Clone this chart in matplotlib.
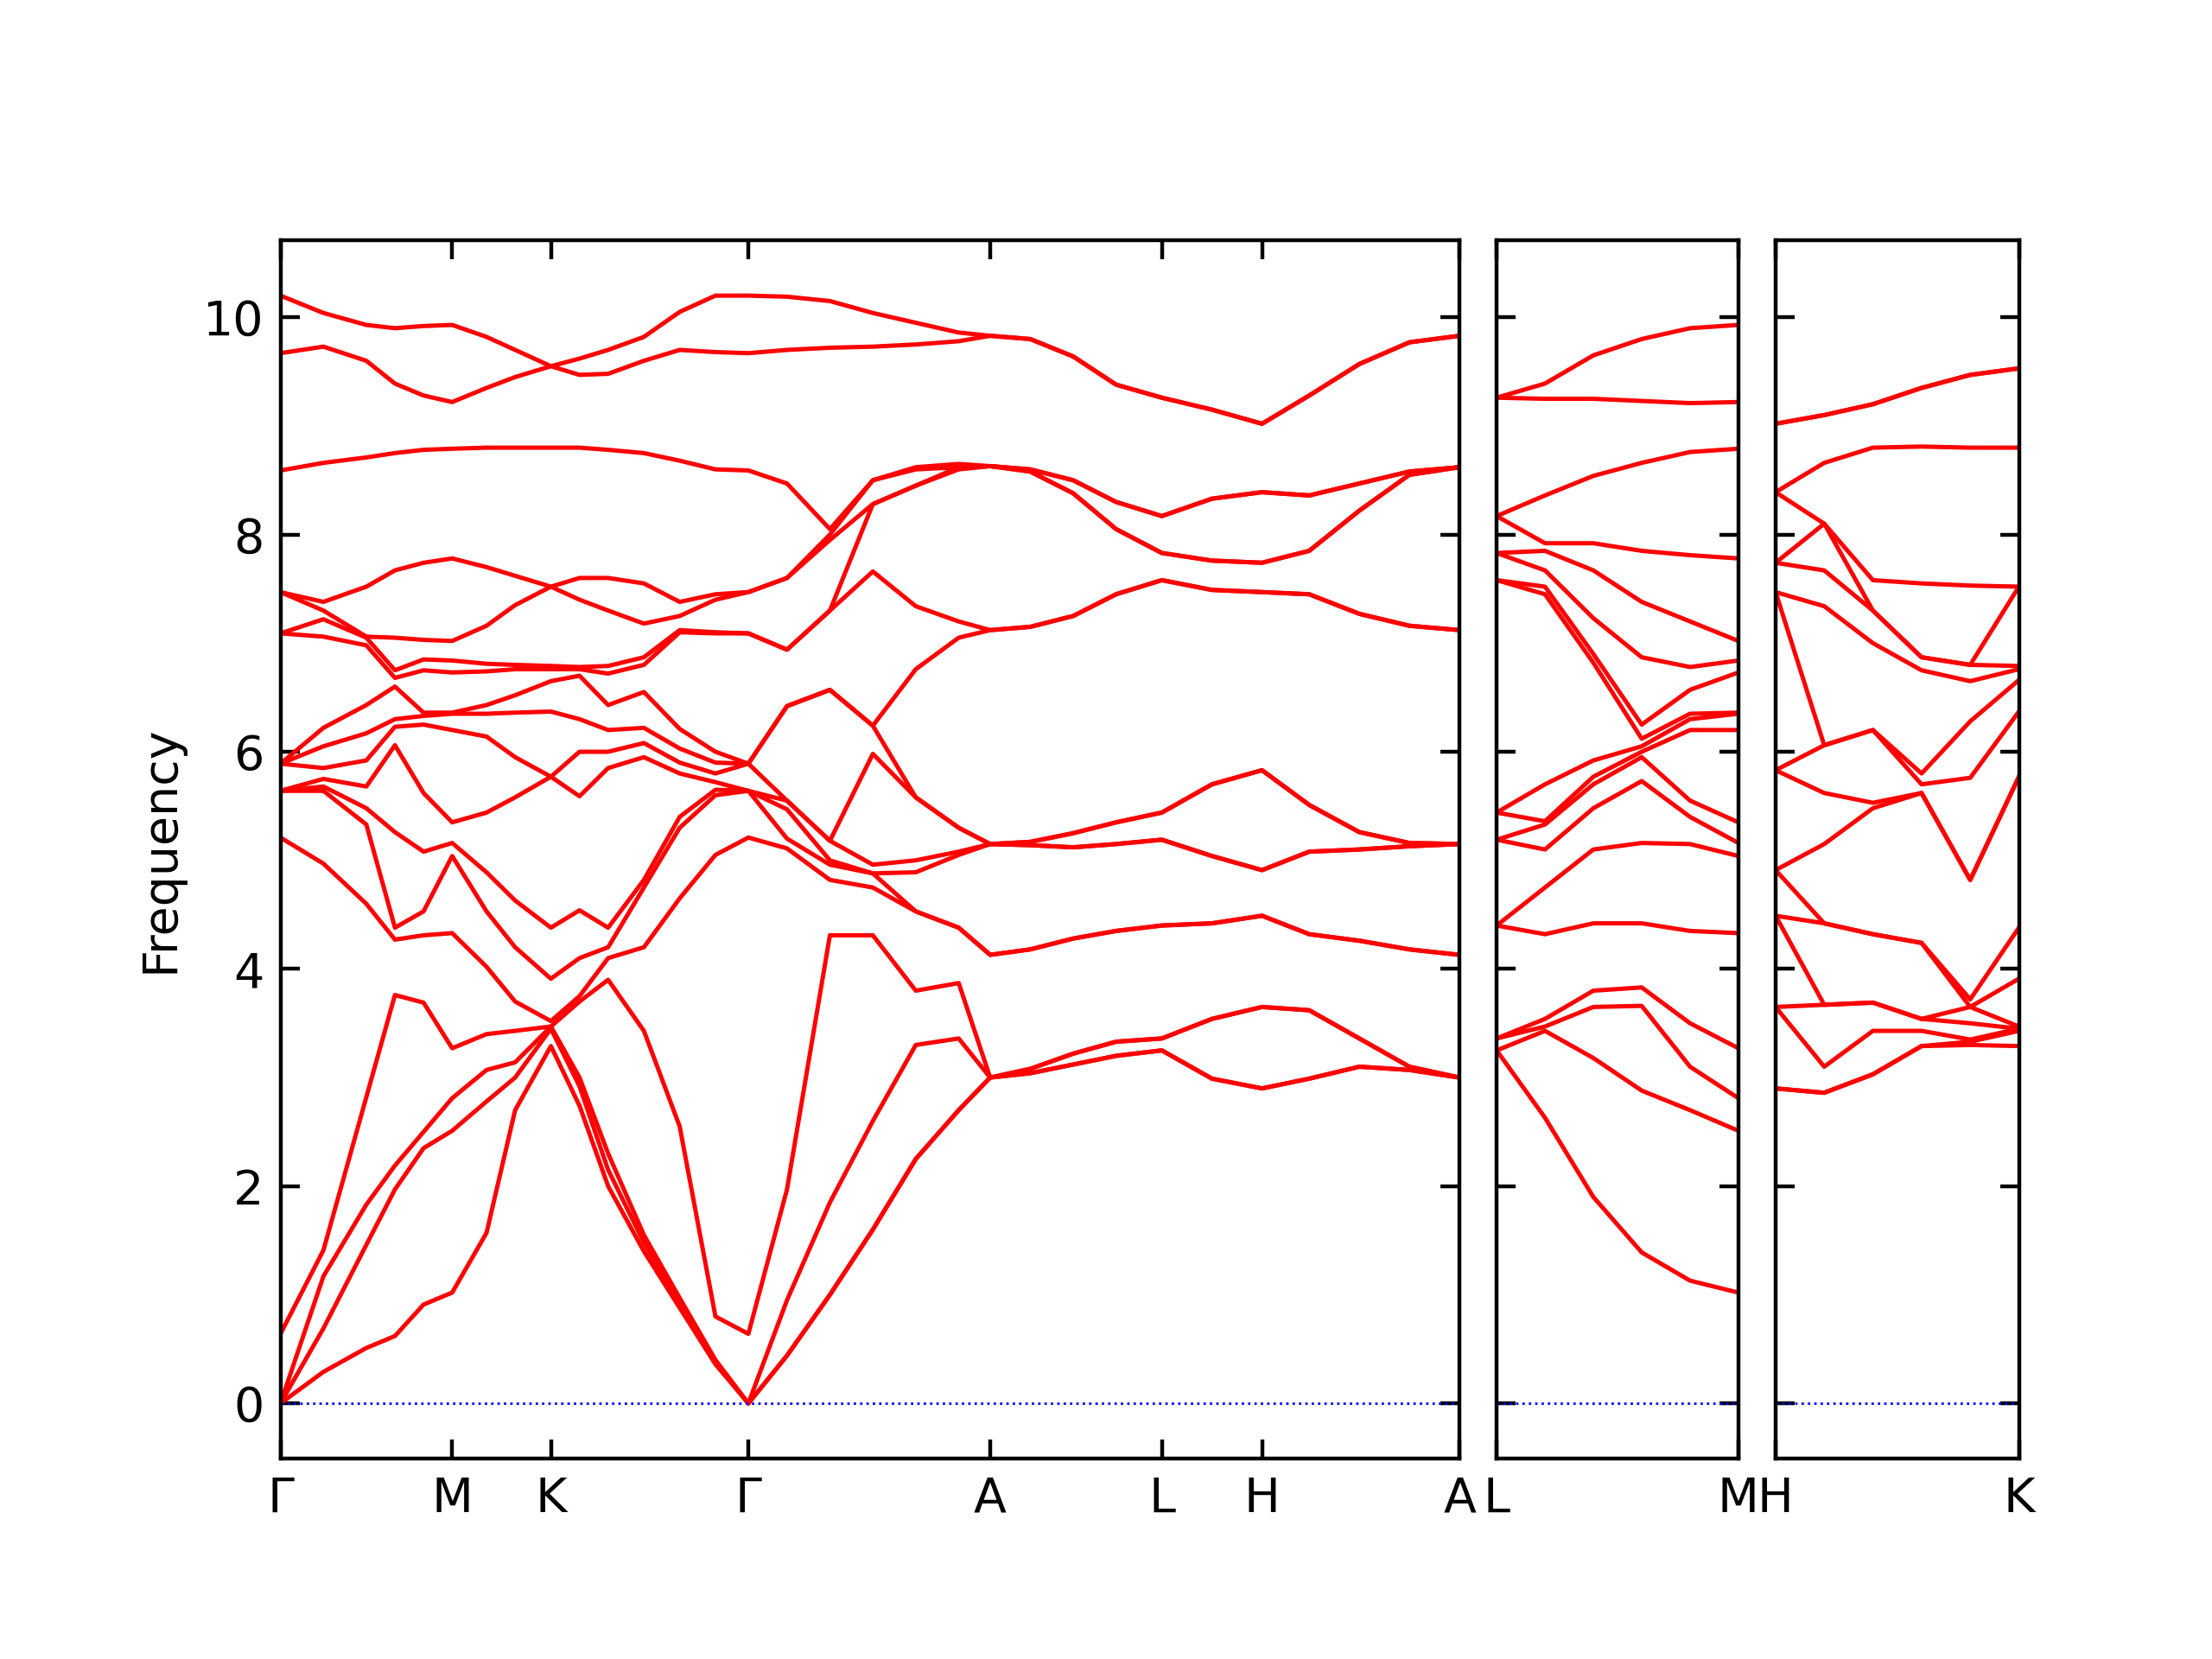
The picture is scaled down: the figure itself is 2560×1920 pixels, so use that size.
import numpy as np
import matplotlib
matplotlib.use("Agg")
import matplotlib.pyplot as plt

# ---------------------------------------------------------------------------
# Phonon frequencies; one row of 18 branches per k-point
# ---------------------------------------------------------------------------
G0 = [0, 0, 0, 0.64, 5.21, 5.64, 5.64, 5.64, 5.89, 5.89, 5.89, 7.09, 7.09, 7.47, 7.47, 8.59, 9.67, 10.2]

# Gamma - M - K - Gamma
k_gmkg = [0, 30, 60, 80, 100, 120, 144, 164, 189, 209, 229, 254, 279, 304, 327]
f_gmkg = [
    G0,
    [10.04, 9.73, 8.66, 7.38, 7.30, 7.22, 7.06, 6.22, 6.05, 5.85, 5.75, 5.68, 5.64, 4.97, 1.41, 1.17, 0.69, 0.29],
    [9.93, 9.6, 8.71, 7.52, 7.06, 7.05, 6.98, 6.43, 6.17, 5.92, 5.68, 5.48, 5.33, 4.6, 2.82, 1.83, 1.46, 0.51],
    [9.9, 9.39, 8.75, 7.67, 7.05, 6.75, 6.68, 6.60, 6.3, 6.23, 6.06, 5.26, 4.38, 4.27, 3.76, 2.19, 1.97, 0.62],
    [9.92, 9.28, 8.78, 7.74, 7.03, 6.85, 6.75, 6.36, 6.33, 6.25, 5.62, 5.08, 4.53, 4.31, 3.69, 2.5, 2.35, 0.91],
    [9.93, 9.22, 8.79, 7.78, 7.02, 6.84, 6.73, 6.36, 6.35, 6.2, 5.35, 5.16, 5.04, 4.33, 3.27, 2.81, 2.51, 1.02],
    [9.82, 9.35, 8.80, 7.70, 7.16, 6.81, 6.74, 6.43, 6.35, 6.14, 5.44, 4.89, 4.53, 4.02, 3.40, 3.07, 2.78, 1.57],
    [9.7, 9.45, 8.8, 7.62, 7.35, 6.8, 6.76, 6.52, 6.36, 5.95, 5.58, 4.63, 4.2, 3.7, 3.43, 3.14, 3.0, 2.7],
    [9.55, 9.55, 8.80, 7.52, 7.52, 6.79, 6.76, 6.65, 6.37, 5.77, 5.77, 4.38, 3.91, 3.52, 3.47, 3.47, 3.45, 3.29],
    [9.62, 9.47, 8.8, 7.6, 7.4, 6.78, 6.76, 6.7, 6.3, 6.0, 5.59, 4.54, 4.1, 3.75, 3.7, 3.0, 2.92, 2.74],
    [9.7, 9.48, 8.78, 7.6, 7.3, 6.79, 6.72, 6.43, 6.2, 6.0, 5.85, 4.38, 4.2, 4.1, 3.9, 2.3, 2.15, 2.0],
    [9.82, 9.6, 8.75, 7.55, 7.18, 6.87, 6.8, 6.55, 6.22, 6.08, 5.95, 4.82, 4.75, 4.2, 3.43, 1.55, 1.48, 1.4],
    [10.05, 9.7, 8.68, 7.38, 7.25, 7.12, 7.1, 6.21, 6.03, 5.9, 5.8, 5.4, 5.3, 4.65, 2.55, 0.97, 0.92, 0.88],
    [10.2, 9.68, 8.6, 7.45, 7.4, 7.1, 7.09, 6.0, 5.9, 5.8, 5.72, 5.65, 5.6, 5.05, 0.8, 0.4, 0.38, 0.36],
    G0,
]

# Gamma - A
k_ga = [327, 354, 384, 414, 444, 474, 496]
f_ga = [
    G0,
    [10.19, 9.7, 8.47, 7.6, 7.6, 6.94, 6.94, 6.42, 6.42, 5.55, 5.55, 5.47, 5.2, 5.11, 1.97, 0.95, 0.44, 0.44],
    [10.15, 9.72, 8.05, 8.0, 7.95, 7.3, 7.3, 6.57, 6.57, 5.18, 5.18, 5.0, 4.96, 4.82, 4.31, 1.85, 1.0, 1.0],
    [10.04, 9.73, 8.5, 8.5, 8.28, 8.28, 7.66, 6.24, 6.24, 5.98, 4.96, 4.88, 4.88, 4.75, 4.31, 2.6, 1.6, 1.6],
    [9.95, 9.75, 8.62, 8.6, 8.45, 8.45, 7.34, 6.76, 5.58, 5.58, 5.0, 4.89, 4.53, 4.53, 3.8, 3.3, 2.25, 2.25],
    [9.86, 9.78, 8.65, 8.62, 8.62, 8.6, 7.2, 7.05, 5.3, 5.3, 5.08, 5.05, 4.38, 4.38, 3.87, 3.36, 2.7, 2.7],
    [9.83, 9.83, 8.63, 8.63, 8.63, 8.63, 7.12, 7.12, 5.15, 5.15, 5.15, 5.15, 4.13, 4.13, 3.0, 3.0, 3.0, 3.0],
]

# A - L - H - A (all branches doubly degenerate: 9 distinct values)
k_alha = [496, 524, 554, 584, 616, 651, 686, 719, 754, 789, 824]
f_alha = [
    [3.0, 3.0, 4.13, 5.15, 5.15, 7.12, 8.63, 8.63, 9.83],
    [3.04, 3.08, 4.18, 5.14, 5.17, 7.15, 8.58, 8.6, 9.8],
    [3.12, 3.22, 4.28, 5.12, 5.25, 7.25, 8.38, 8.5, 9.64],
    [3.2, 3.33, 4.35, 5.15, 5.35, 7.45, 8.05, 8.3, 9.38],
    [3.25, 3.36, 4.4, 5.19, 5.44, 7.58, 7.83, 8.17, 9.26],
    [2.99, 3.54, 4.42, 5.04, 5.7, 7.49, 7.76, 8.33, 9.15],
    [2.9, 3.65, 4.49, 4.91, 5.83, 7.47, 7.74, 8.39, 9.02],
    [2.99, 3.62, 4.32, 5.08, 5.51, 7.45, 7.85, 8.36, 9.28],
    [3.1, 3.36, 4.26, 5.1, 5.26, 7.27, 8.22, 8.47, 9.57],
    [3.07, 3.1, 4.18, 5.13, 5.16, 7.16, 8.55, 8.58, 9.77],
    [3.0, 3.0, 4.13, 5.15, 5.15, 7.12, 8.62, 8.62, 9.83],
]

# L - M panel
k_lm = [0, 0.2, 0.4, 0.6, 0.8, 1.0]
f_lm = [
    [3.25, 3.25, 3.36, 3.36, 4.4, 4.4, 5.19, 5.19, 5.44, 5.44, 7.58, 7.58, 7.83, 7.83, 8.17, 8.17, 9.26, 9.26],
    [9.39, 9.25, 8.36, 7.92, 7.85, 7.67, 7.52, 7.45, 5.70, 5.36, 5.33, 5.1, 4.75, 4.32, 3.54, 3.47, 3.43, 2.63],
    [9.65, 9.25, 8.54, 7.92, 7.67, 7.23, 6.9, 6.82, 5.92, 5.77, 5.70, 5.48, 5.1, 4.42, 3.8, 3.65, 3.18, 1.9],
    [9.8, 9.23, 8.66, 7.85, 7.38, 6.87, 6.25, 6.12, 6.05, 6.0, 5.95, 5.73, 5.16, 4.42, 3.83, 3.66, 2.88, 1.39],
    [9.9, 9.21, 8.76, 7.81, 7.2, 6.78, 6.57, 6.35, 6.3, 6.2, 5.55, 5.4, 5.15, 4.35, 3.5, 3.1, 2.7, 1.13],
    [9.93, 9.22, 8.79, 7.78, 7.02, 6.84, 6.73, 6.36, 6.35, 6.2, 5.35, 5.16, 5.04, 4.33, 3.27, 2.81, 2.51, 1.02],
]

# H - K panel
k_hk = [0, 0.2, 0.4, 0.6, 0.8, 1.0]
f_hk = [
    [2.9, 2.9, 3.65, 3.65, 4.49, 4.49, 4.91, 4.91, 5.83, 5.83, 7.47, 7.47, 7.74, 7.74, 8.39, 8.39, 9.02, 9.02],
    [9.1, 9.1, 8.66, 8.1, 8.1, 7.67, 7.34, 6.06, 6.06, 5.62, 5.15, 4.42, 4.42, 3.67, 3.67, 3.1, 2.86, 2.86],
    [9.2, 9.2, 8.8, 7.58, 7.3, 7.3, 7.0, 6.2, 6.2, 5.53, 5.48, 4.32, 4.32, 3.69, 3.69, 3.43, 3.03, 3.03],
    [9.35, 9.35, 8.81, 7.55, 6.87, 6.87, 6.75, 5.8, 5.7, 5.62, 5.62, 4.24, 4.24, 3.54, 3.54, 3.43, 3.29, 3.29],
    [9.47, 9.47, 8.8, 7.53, 6.8, 6.8, 6.65, 6.28, 5.76, 4.82, 4.82, 3.72, 3.65, 3.65, 3.5, 3.35, 3.33, 3.3],
    [9.53, 9.53, 8.8, 7.52, 7.52, 6.79, 6.76, 6.66, 6.37, 5.77, 5.77, 4.38, 3.91, 3.47, 3.45, 3.45, 3.43, 3.29],
]

ticks_main = [0, 120, 189, 327, 496, 616, 686, 824]
labels_main = ["Γ", "M", "K", "Γ", "A", "L", "H", "A"]


def bands(rows):
    return np.sort(np.array(rows, dtype=float), axis=1)


k_main = np.array(k_gmkg + k_ga + k_alha, dtype=float)
f_main = np.vstack([bands(f_gmkg), bands(f_ga), bands([r + r for r in f_alha])])

panels = [
    (k_main, f_main, ticks_main, labels_main),
    (np.array(k_lm), bands(f_lm), [0, 1], ["L", "M"]),
    (np.array(k_hk), bands(f_hk), [0, 1], ["H", "K"]),
]

fig = plt.figure(figsize=(6.4, 4.8), dpi=400)
bottom, height = 0.1207, 0.7345
rects = [
    (0.1268, bottom, 0.5330, height),
    (0.6766, bottom, 0.1093, height),
    (0.8027, bottom, 0.1100, height),
]

for i, (k, f, tks, tls) in enumerate(panels):
    ax = fig.add_axes(rects[i])
    for b in range(f.shape[1]):
        ax.plot(k, f[:, b], color="red", lw=0.9)
    ax.axhline(0, color="blue", lw=0.5, ls=":")
    ax.set_xlim(k[0], k[-1])
    ax.set_ylim(-0.51, 10.71)
    ax.set_yticks([0, 2, 4, 6, 8, 10])
    ax.set_xticks(tks)
    ax.set_xticklabels(tls)
    ax.tick_params(direction="in", top=True, right=True, length=4)
    if i == 0:
        ax.set_ylabel("Frequency")
    else:
        ax.set_yticklabels([])

fig.savefig("out.png", dpi=400)
